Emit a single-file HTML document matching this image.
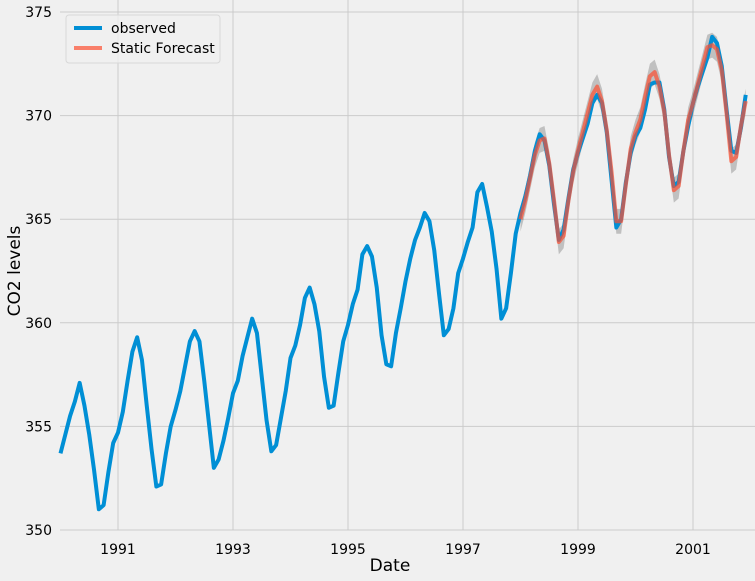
<!DOCTYPE html>
<html><head><meta charset="utf-8"><style>
html,body{margin:0;padding:0;background:#f0f0f0;}
svg{display:block;font-family:"DejaVu Sans","Liberation Sans",sans-serif;}
</style></head><body>
<svg id="chart" width="755" height="581" viewBox="0 0 755 581">
<rect x="0" y="0" width="755" height="581" fill="#f0f0f0"/>
<g id="grid"></g>
<g id="ticks"></g>
<g id="marks"></g>
<text x="390" y="571" text-anchor="middle" font-size="17" fill="#000">Date</text>
<text x="20" y="271" text-anchor="middle" font-size="17" fill="#000" transform="rotate(-90 20 271)">CO2 levels</text>
<g>
<rect x="66" y="15" width="154" height="48" rx="3" fill="#f0f0f0" fill-opacity="0.8" stroke="#d8d8d8"/>
<line x1="74" y1="28" x2="102" y2="28" stroke="#008fd5" stroke-width="4"/>
<text x="111" y="33" font-size="14">observed</text>
<line x1="74" y1="48" x2="102" y2="48" stroke="#fc4f30" stroke-opacity="0.7" stroke-width="4"/>
<text x="111" y="53" font-size="14">Static Forecast</text>
</g>
</svg>
<script>
const observed = [
353.7,354.6,355.5,356.2,357.1,356.0,354.6,352.9,351.0,351.2,352.8,354.2,
354.7,355.7,357.2,358.6,359.3,358.2,356.0,353.9,352.1,352.2,353.7,355.0,
355.8,356.7,357.9,359.1,359.6,359.1,357.2,355.1,353.0,353.4,354.3,355.4,
356.6,357.2,358.4,359.3,360.2,359.5,357.4,355.3,353.8,354.1,355.4,356.7,
358.3,358.9,359.9,361.2,361.7,360.9,359.6,357.4,355.9,356.0,357.6,359.1,
359.9,360.9,361.6,363.3,363.7,363.2,361.7,359.4,358.0,357.9,359.5,360.7,
362.0,363.1,364.0,364.6,365.3,364.9,363.5,361.4,359.4,359.7,360.7,362.4,
363.1,363.9,364.6,366.3,366.7,365.6,364.4,362.6,360.2,360.7,362.4,364.3,
365.3,366.1,367.1,368.3,369.1,368.8,367.6,365.7,364.0,364.5,366.0,367.4,
368.2,368.9,369.6,370.6,371.0,370.6,369.2,366.9,364.6,365.0,366.8,368.2,
369.0,369.4,370.3,371.5,371.6,371.6,370.3,368.0,366.6,366.8,368.3,369.5,
370.6,371.4,372.1,372.8,373.8,373.5,372.4,370.3,368.3,368.2,369.4,371.0];
const forecastStart = 96;
const forecast = [
365.0,365.9,367.0,368.1,368.8,368.9,367.7,365.9,363.9,364.2,365.9,367.3,
368.3,369.2,370.1,371.0,371.4,370.7,369.3,367.3,364.9,364.9,366.7,368.4,
369.2,369.8,370.9,371.9,372.1,371.4,370.2,368.1,366.4,366.6,368.3,369.8,
370.6,371.5,372.4,373.3,373.4,373.2,372.2,370.1,367.8,368.0,369.5,370.7];
const ciHalf = [0.6];
const yTicks = [350,355,360,365,370,375];
const xTickYears = [1991,1993,1995,1997,1999,2001];

const NS="http://www.w3.org/2000/svg";
const X0=60.5, PXM=57.5/12;
const xMonth = i => X0 + PXM*i;
const xYear = yr => X0 + (yr-1990)*57.5;
const yVal = v => 530 - (v-350)*(518/25);
function mk(tag, attrs, parent){const e=document.createElementNS(NS,tag);for(const k in attrs)e.setAttribute(k,attrs[k]);parent.appendChild(e);return e;}
const grid=document.getElementById('grid'), ticks=document.getElementById('ticks'), marks=document.getElementById('marks');
yTicks.forEach(v=>{
  const l=mk('line',{x1:60,x2:755,y1:yVal(v),y2:yVal(v),stroke:'#cbcbcb','stroke-width':1},grid);
  
  
  const t=mk('text',{x:52,y:yVal(v)+5,'text-anchor':'end','font-size':14,fill:'#000'},ticks);
  t.textContent=v;
  
  
});
xTickYears.forEach(yr=>{
  const l=mk('line',{x1:xYear(yr),x2:xYear(yr),y1:0,y2:530,stroke:'#cbcbcb','stroke-width':1},grid);
  
  
  const t=mk('text',{x:xYear(yr),y:554,'text-anchor':'middle','font-size':14,fill:'#000'},ticks);
  t.textContent=yr;
  
  
});
// confidence band
let up=[],lo=[];
forecast.forEach((v,i)=>{const x=xMonth(forecastStart+i);up.push(x+','+yVal(v+ciHalf[0]));lo.unshift(x+','+yVal(v-ciHalf[0]));});
const band=mk('polygon',{points:up.concat(lo).join(' '),fill:'#000','fill-opacity':0.2},marks);


const obs=mk('polyline',{points:observed.map((v,i)=>xMonth(i)+','+yVal(v)).join(' '),fill:'none',stroke:'#008fd5','stroke-width':4,'stroke-linejoin':'round'},marks);


const fc=mk('polyline',{points:forecast.map((v,i)=>xMonth(forecastStart+i)+','+yVal(v)).join(' '),fill:'none',stroke:'#fc4f30','stroke-opacity':0.7,'stroke-width':4,'stroke-linejoin':'round'},marks);


</script>
</body></html>
